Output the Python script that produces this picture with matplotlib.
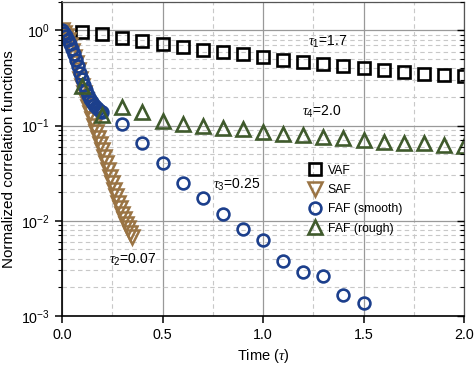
import numpy as np
import matplotlib
matplotlib.use('Agg')
import matplotlib.pyplot as plt
from matplotlib.ticker import LogLocator, MultipleLocator, NullFormatter

# VAF (squares)
vaf_t = [0.1, 0.2, 0.3, 0.4, 0.5, 0.6, 0.7, 0.8, 0.9, 1.0,
         1.1, 1.2, 1.3, 1.4, 1.5, 1.6, 1.7, 1.8, 1.9, 2.0]
vaf_y = [0.97, 0.91, 0.83, 0.77, 0.72, 0.67, 0.63, 0.59, 0.56, 0.52,
         0.49, 0.47, 0.44, 0.42, 0.40, 0.38, 0.37, 0.35, 0.34, 0.33]

# SAF (down triangles, dense)
saf_t = [0.00, 0.01, 0.02, 0.03, 0.04, 0.05, 0.06, 0.07, 0.08, 0.09,
         0.10, 0.11, 0.12, 0.13, 0.14, 0.15, 0.16, 0.17, 0.18, 0.19,
         0.20, 0.21, 0.22, 0.23, 0.24, 0.25, 0.26, 0.27, 0.28, 0.29,
         0.30, 0.31, 0.32, 0.33, 0.34, 0.35]
saf_y = [1.00, 0.95, 0.88, 0.80, 0.70, 0.61, 0.53, 0.45, 0.38, 0.31,
         0.26, 0.22, 0.185, 0.155, 0.135, 0.116, 0.100, 0.086, 0.074, 0.064,
         0.055, 0.047, 0.040, 0.034, 0.029, 0.025, 0.021, 0.018, 0.0155, 0.0135,
         0.0118, 0.0104, 0.0093, 0.0083, 0.0075, 0.0068]

# FAF smooth (circles)
fafs_t = [0.00, 0.01, 0.02, 0.03, 0.04, 0.05, 0.06, 0.07, 0.08, 0.09,
          0.10, 0.11, 0.12, 0.13, 0.14, 0.15, 0.16, 0.17, 0.18, 0.19, 0.20,
          0.3, 0.4, 0.5, 0.6, 0.7, 0.8, 0.9, 1.0, 1.1, 1.2, 1.3, 1.4, 1.5]
fafs_y = [1.00, 0.95, 0.88, 0.80, 0.72, 0.64, 0.56, 0.49, 0.42, 0.36,
          0.31, 0.27, 0.235, 0.21, 0.19, 0.175, 0.165, 0.155, 0.148, 0.142, 0.138,
          0.103, 0.066, 0.040, 0.025, 0.0173, 0.0117, 0.0082, 0.0063, 0.0038,
          0.0029, 0.0026, 0.00166, 0.00137]

# FAF rough (up triangles)
fafr_t = [0.1, 0.2, 0.3, 0.4, 0.5, 0.6, 0.7, 0.8, 0.9, 1.0,
          1.1, 1.2, 1.3, 1.4, 1.5, 1.6, 1.7, 1.8, 1.9, 2.0]
fafr_y = [0.26, 0.128, 0.157, 0.138, 0.111, 0.103, 0.099, 0.094, 0.091, 0.086,
          0.082, 0.079, 0.075, 0.074, 0.071, 0.068, 0.066, 0.065, 0.062, 0.061]

plt.rcParams['font.family'] = ['Liberation Sans', 'DejaVu Sans']
plt.rcParams['mathtext.fontset'] = 'custom'
plt.rcParams['mathtext.it'] = 'Liberation Serif:italic'
plt.rcParams['mathtext.rm'] = 'Liberation Sans'

fig = plt.figure(figsize=(4.74, 3.66), dpi=100)
ax = fig.add_axes([0.131, 0.137, 0.848, 0.858])

c_vaf = 'black'
c_saf = '#9a7444'
c_fafs = '#1c3f8c'
c_fafr = '#3f5a2c'

ax.plot(vaf_t, vaf_y, 's', ms=8.5, mfc='none', mec=c_vaf, mew=1.9, label='VAF')
ax.plot(saf_t, saf_y, 'v', ms=10, mfc='none', mec=c_saf, mew=1.8, label='SAF')
ax.plot(fafs_t, fafs_y, 'o', ms=8.5, mfc='none', mec=c_fafs, mew=1.9, label='FAF (smooth)')
ax.plot(fafr_t, fafr_y, '^', ms=10, mfc='none', mec=c_fafr, mew=1.9, label='FAF (rough)')

ax.set_yscale('log')
ax.set_xlim(0, 2.0)
ax.set_ylim(1e-3, 2.0)
ax.xaxis.set_major_locator(MultipleLocator(0.5))
ax.xaxis.set_minor_locator(MultipleLocator(0.25))
ax.yaxis.set_major_locator(LogLocator(base=10, numticks=10))
ax.yaxis.set_minor_locator(LogLocator(base=10, subs=np.arange(2, 10), numticks=10))
ax.yaxis.set_minor_formatter(NullFormatter())

ax.grid(True, which='major', color='#999999', linewidth=0.9, linestyle='-')
ax.grid(True, which='minor', color='#c8c8c8', linewidth=0.8, linestyle=(0, (4, 3)))
ax.set_axisbelow(True)

for s in ['left', 'bottom']:
    ax.spines[s].set_linewidth(1.2)
for s in ['top', 'right']:
    ax.spines[s].set_color('#555555')
    ax.spines[s].set_linewidth(0.9)

ax.tick_params(axis='both', which='major', labelsize=10.3, length=5, width=1.1, direction='out')
ax.tick_params(axis='y', which='minor', length=3, width=0.8, direction='out')
ax.tick_params(axis='x', which='minor', length=0)
ax.set_xticks([0.0, 0.5, 1.0, 1.5, 2.0])
ax.set_xticklabels(['0.0', '0.5', '1.0', '1.5', '2.0'])

# inward ticks on the right side
ax2 = ax.twinx()
ax2.set_yscale('log')
ax2.set_ylim(ax.get_ylim())
ax2.yaxis.set_major_locator(LogLocator(base=10, numticks=10))
ax2.yaxis.set_minor_locator(LogLocator(base=10, subs=np.arange(2, 10), numticks=10))
ax2.tick_params(axis='y', which='major', direction='in', length=5, width=1.0, labelright=False)
ax2.tick_params(axis='y', which='minor', direction='in', length=3, width=0.8, labelright=False)
for s in ax2.spines.values():
    s.set_visible(False)

ax.set_xlabel(r'Time ($\tau$)', fontsize=10.5)
ax.set_ylabel('Normalized correlation functions', fontsize=11)

ax.text(1.32, 0.75, r'$\tau_1$=1.7', fontsize=10, ha='center', va='center')
ax.text(1.29, 0.138, r'$\tau_4$=2.0', fontsize=10, ha='center', va='center')
ax.text(0.87, 0.0236, r'$\tau_3$=0.25', fontsize=10, ha='center', va='center')
ax.text(0.35, 0.0039, r'$\tau_2$=0.07', fontsize=10, ha='center', va='center')

ax.legend(loc='upper left', bbox_to_anchor=(0.6, 0.497), frameon=False,
          fontsize=8.8, handletextpad=0.4, labelspacing=0.6, borderaxespad=0,
          handlelength=1.2)

fig.savefig('out.png', dpi=100)
